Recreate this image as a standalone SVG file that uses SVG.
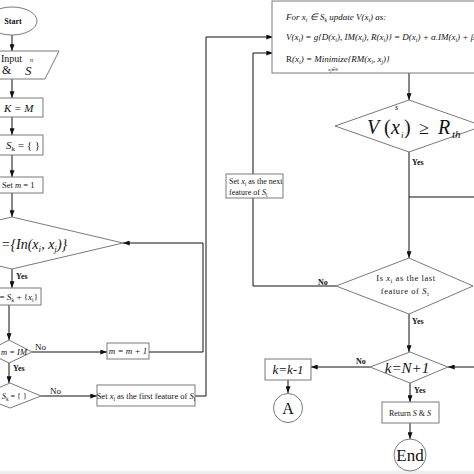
<svg xmlns="http://www.w3.org/2000/svg" width="474" height="474" viewBox="0 0 474 474">
<style>
.sh{fill:#fff;stroke:#7a7a7a;stroke-width:1}
.ln{fill:none;stroke:#111;stroke-width:1}
.ar{fill:none;stroke:#111;stroke-width:1;marker-end:url(#ah)}
text{font-family:"Liberation Serif","Times New Roman",serif;fill:#111}
.t9{font-size:9px}
.it{font-style:italic}
.lb{font-size:8px;font-weight:bold}
.sub{font-size:65%;baseline-shift:-30%}
</style>
<defs>
<marker id="ah" viewBox="0 0 8 6" refX="8" refY="3" markerWidth="7" markerHeight="5" markerUnits="userSpaceOnUse" orient="auto">
<path d="M0,0 L8,3 L0,6 Z" fill="#111"/>
</marker>
</defs>
<rect x="0" y="471" width="474" height="3" fill="#eeeeee"/>
<g id="connectors">
<path class="ar" d="M12,35 V51"/>
<path class="ar" d="M12,79 V98"/>
<path class="ar" d="M12,117 V135"/>
<path class="ar" d="M12,155 V177"/>
<path class="ar" d="M12,193 V217"/>
<path class="ar" d="M12,269 V288"/>
<path class="ar" d="M9,305 V340"/>
<path class="ar" d="M32,352 H107"/>
<path class="ar" d="M9,363 V383"/>
<path class="ar" d="M41,396 H97"/>
<path class="ar" d="M149,352 H203 V243 H123"/>
<path class="ar" d="M195,396 H206 V37 H273"/>
<path class="ar" d="M336,286 H253 V53 H273"/>
<path class="ar" d="M409,73 V100"/>
<path class="ar" d="M409,152 V258"/>
<path class="ln" d="M409,197 H480"/>
<path class="ar" d="M409,314 V352"/>
<path class="ar" d="M480,367 H448"/>
<path class="ar" d="M370,367 H311"/>
<path class="ar" d="M288,380 V393"/>
<path class="ar" d="M410,383 V402"/>
<path class="ar" d="M410,423 V439"/>
<text class="lb" x="16" y="279">Yes</text>
<text class="t9" x="35" y="350">No</text>
<text class="lb" x="13" y="371">Yes</text>
<text class="t9" x="50" y="394">No</text>
<text class="lb" x="318" y="285">No</text>
<text class="lb" x="412" y="165">Yes</text>
<text class="lb" x="412" y="324">Yes</text>
<text class="lb" x="356" y="364">No</text>
<text class="lb" x="414" y="393">Yes</text>
</g>
<g id="start">
<ellipse class="sh" cx="12" cy="21" rx="25" ry="14"/>
<text x="13" y="24" text-anchor="middle" font-weight="bold" font-size="8">Start</text>
</g>
<g id="input">
<polygon class="sh" points="-40,51 59,51 45,79 -54,79"/>
<text x="1" y="62" font-size="10">Input</text>
<text x="2" y="74" font-size="12">&amp;</text>
<text x="25" y="75" font-size="13" class="it">S</text>
<text x="30" y="62" font-size="6" class="it">n</text>
</g>
<g id="kM">
<rect class="sh" x="-40" y="98" width="83" height="19"/>
<text x="4" y="112" font-size="11" class="it">K = M</text>
</g>
<g id="sk">
<rect class="sh" x="-40" y="135" width="83" height="20"/>
<text x="6" y="149" font-size="11"><tspan class="it">S</tspan><tspan class="sub">k</tspan> = { }</text>
</g>
<g id="setm">
<rect class="sh" x="-40" y="177" width="83" height="16"/>
<text x="2" y="188" font-size="8.5">Set <tspan class="it">m</tspan> = 1</text>
</g>
<g id="argmax">
<polygon class="sh" points="12,217 123,243 12,269 -99,243"/>
<text x="1" y="249" font-size="14" class="it">={In(x<tspan class="sub">i</tspan>, x<tspan class="sub">j</tspan>)}</text>
</g>
<g id="addsk">
<rect class="sh" x="-40" y="288" width="81" height="17"/>
<text x="38" y="300" class="t9" text-anchor="end">= <tspan class="it">S</tspan><tspan class="sub">k</tspan> + {<tspan class="it">x</tspan><tspan class="sub">i</tspan>}</text>
</g>
<g id="mIM">
<polygon class="sh" points="9,340 32,352 9,363 -14,352"/>
<text x="1" y="355" font-size="8.5" class="it">m = IM</text>
</g>
<g id="skempty">
<polygon class="sh" points="10,383 41,396 10,408 -21,396"/>
<text x="2" y="399" font-size="8"><tspan class="it">S</tspan><tspan class="sub">k</tspan> = { }</text>
</g>
<g id="mplus">
<rect class="sh" x="107" y="343" width="42" height="16"/>
<text x="128" y="354" class="t9 it" text-anchor="middle">m = m + 1</text>
</g>
<g id="setfirst">
<rect class="sh" x="97" y="385" width="98" height="21"/>
<text x="146" y="399" font-size="8.5" text-anchor="middle">Set <tspan class="it">x</tspan><tspan class="sub">i</tspan> as the first feature of <tspan class="it">S</tspan><tspan class="sub">i</tspan></text>
</g>
<g id="setnext">
<rect class="sh" x="226" y="174" width="57" height="24"/>
<text x="229" y="184" font-size="8">Set <tspan class="it">x</tspan><tspan class="sub">i</tspan> as the next</text>
<text x="229" y="195" font-size="8">feature of <tspan class="it">S</tspan><tspan class="sub">i</tspan></text>
</g>
<g id="update">
<rect class="sh" x="272" y="1" width="220" height="72"/>
<text x="286" y="20" class="t9 it">For x<tspan class="sub">i</tspan> ∈ S<tspan class="sub">k</tspan> update V(x<tspan class="sub">i</tspan>) as:</text>
<text x="286" y="40" class="t9 it">V(x<tspan class="sub">i</tspan>) = g{D(x<tspan class="sub">i</tspan>), IM(x<tspan class="sub">i</tspan>), R(x<tspan class="sub">i</tspan>)} = D(x<tspan class="sub">i</tspan>) + α.IM(x<tspan class="sub">i</tspan>) + β</text>
<text x="286" y="62" class="t9 it"><tspan font-style="normal">R</tspan>(x<tspan class="sub">i</tspan>) = Minimize{RM(x<tspan class="sub">i</tspan>, x<tspan class="sub">j</tspan>)}</text>
<text x="328" y="71" font-size="5" class="it">x<tspan class="sub">j</tspan>∈S</text>
</g>
<g id="vcheck">
<polygon class="sh" points="409,100 483,126 409,152 335,126"/>
<text y="134" font-size="20" class="it"><tspan x="367">V</tspan><tspan x="384" font-style="normal">(</tspan><tspan x="391">x</tspan></text>
<text x="401" y="138" font-size="9" class="it">i</text>
<text x="395" y="110" font-size="8" class="it">s</text>
<text x="404" y="134" font-size="20">)</text>
<text x="419" y="134" font-size="18">≥</text>
<text x="438" y="134" font-size="20" class="it">R</text>
<text x="452" y="138" font-size="11" class="it">th</text>
</g>
<g id="lastcheck">
<polygon class="sh" points="409,258 473,286 409,314 336,286"/>
<text x="406" y="281" font-size="8.5" text-anchor="middle" letter-spacing="0.6">Is <tspan class="it">x</tspan><tspan class="sub">i</tspan> as the last</text>
<text x="405" y="294" font-size="8.5" text-anchor="middle" letter-spacing="0.6">feature of <tspan class="it">S</tspan><tspan class="sub">i</tspan></text>
</g>
<g id="kcheck">
<polygon class="sh" points="410,352 448,367 410,383 370,367"/>
<text x="407" y="373" font-size="15" class="it" text-anchor="middle">k=N+1</text>
</g>
<g id="kminus">
<rect class="sh" x="265" y="359" width="46" height="21"/>
<text x="288" y="374" font-size="13" class="it" text-anchor="middle">k=k-1</text>
</g>
<g id="A">
<circle class="sh" cx="288" cy="408" r="14.5"/>
<text x="288" y="414" font-size="16" text-anchor="middle">A</text>
</g>
<g id="return">
<rect class="sh" x="382" y="402" width="57" height="21"/>
<text x="410" y="416" font-size="8" text-anchor="middle">Return <tspan class="it">S</tspan> &amp; <tspan class="it">S</tspan></text>
</g>
<g id="end">
<circle class="sh" cx="410" cy="455" r="16"/>
<text x="410" y="461" font-size="17" text-anchor="middle">End</text>
</g>
</svg>
